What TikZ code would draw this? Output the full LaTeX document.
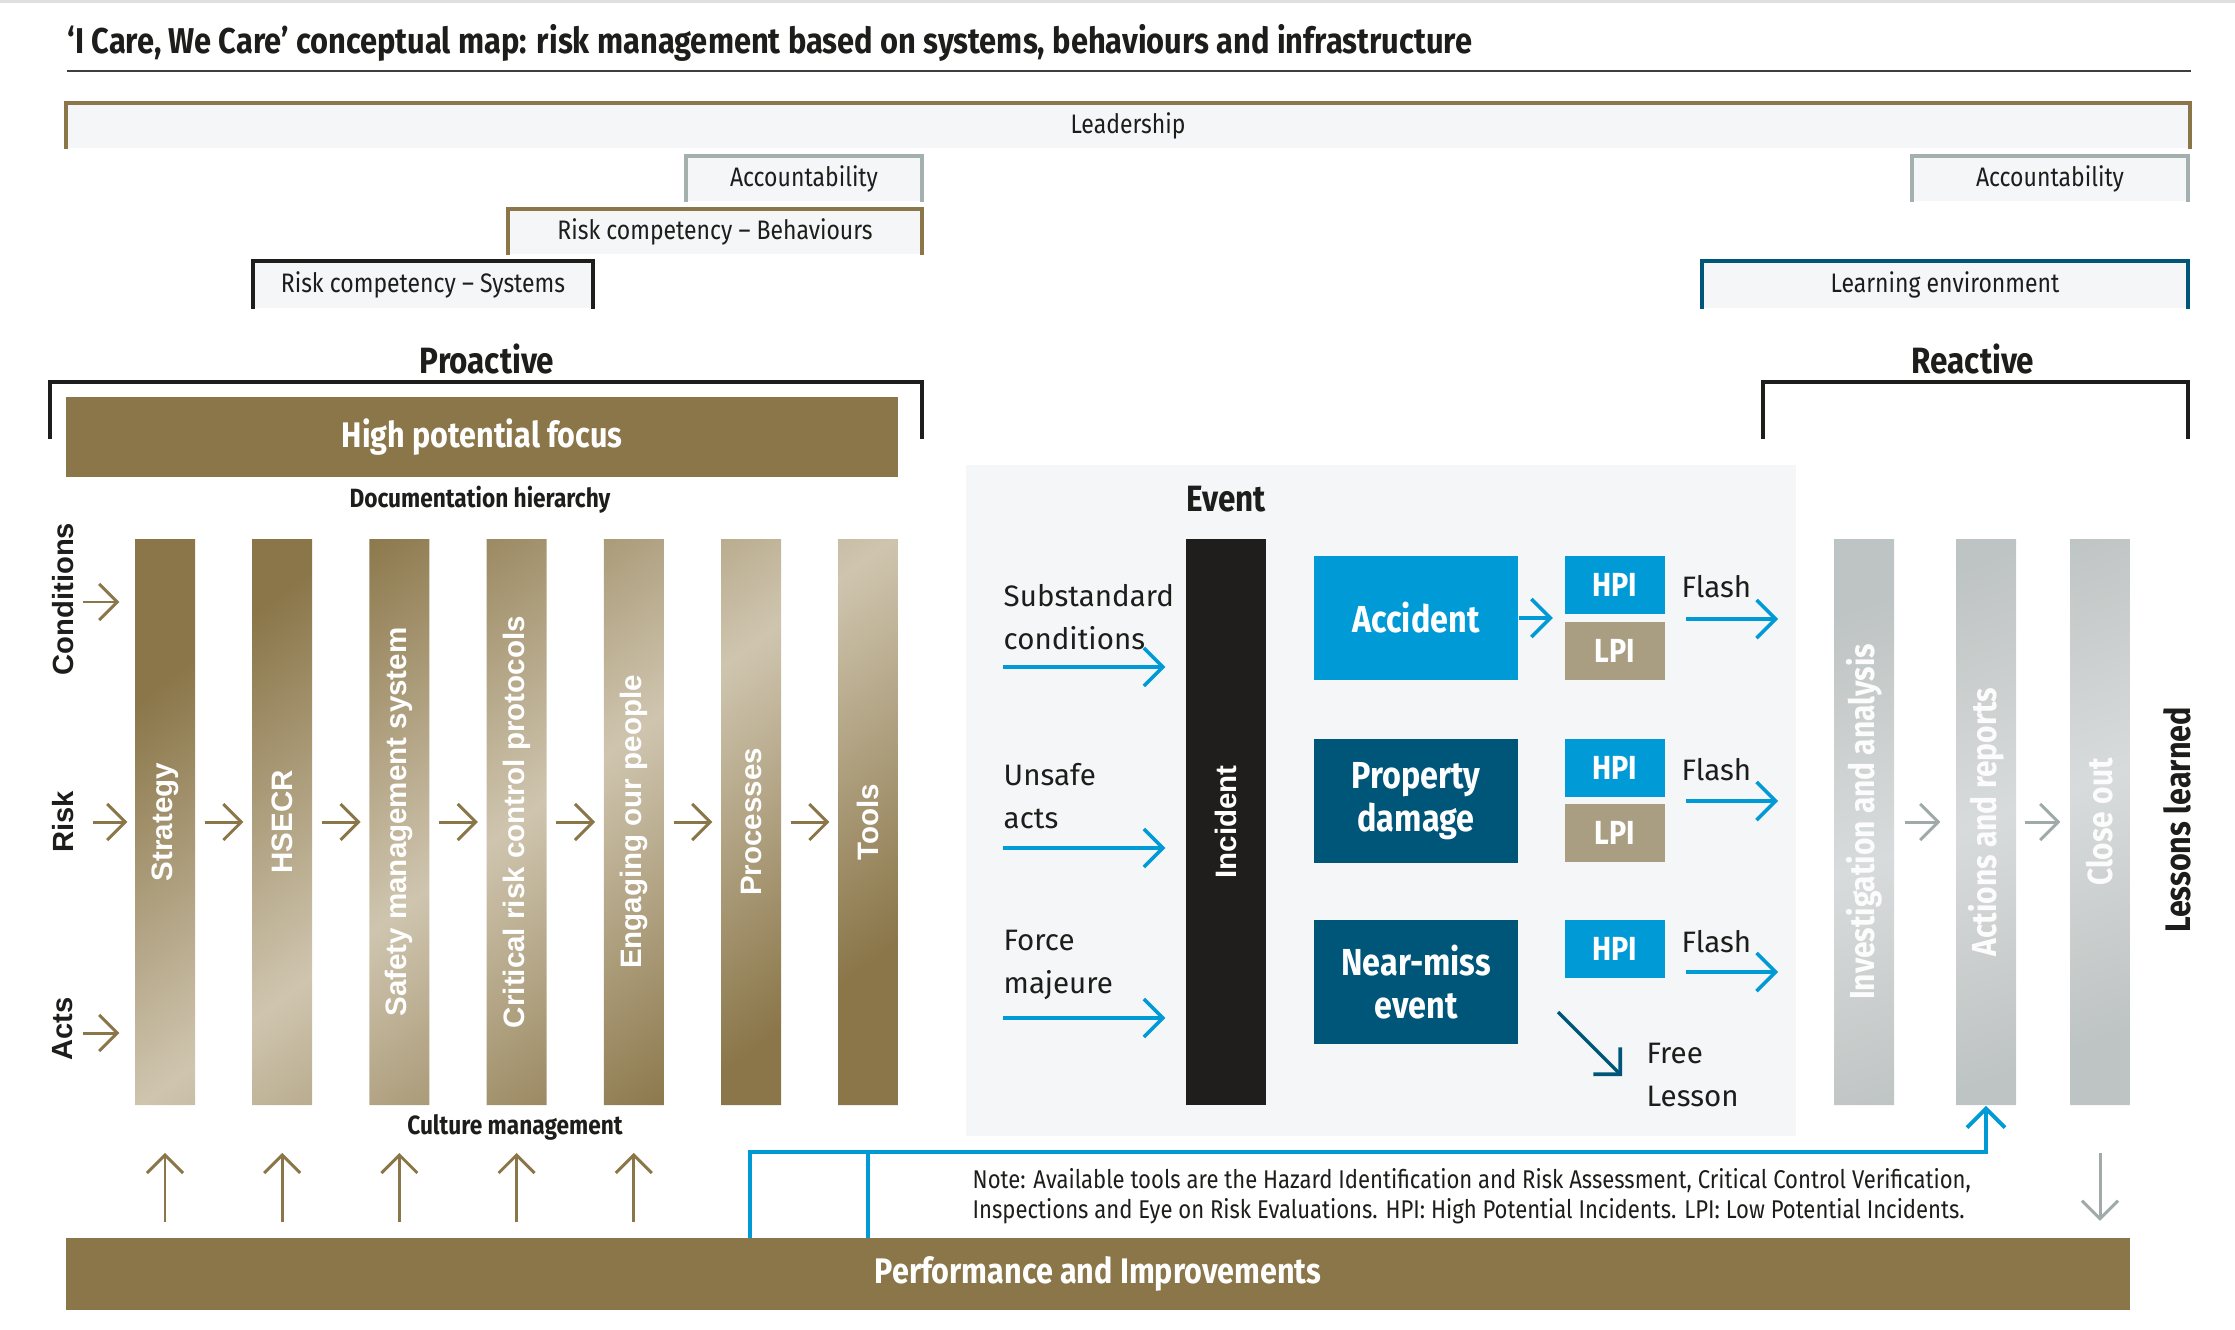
\documentclass[tikz,border=0pt]{standalone}
\usepackage{fontspec}
\setmainfont{Fira Sans}
\newfontfamily\condfont{Fira Sans}[FakeStretch=0.86]
\newfontfamily\arialfont{Liberation Sans}
\usetikzlibrary{arrows.meta}
\definecolor{gold}{HTML}{8A7649}
\definecolor{goldlight}{HTML}{CFC5AF}
\definecolor{ink}{HTML}{1D1D1B}
\definecolor{panel}{HTML}{F4F6F7}
\definecolor{accgray}{HTML}{A4B0AE}
\definecolor{navy}{HTML}{005679}
\definecolor{sky}{HTML}{009AD6}
\definecolor{taupe}{HTML}{A99D82}
\definecolor{incblack}{HTML}{1F1E1C}
\definecolor{ashdark}{HTML}{BEC4C3}
\definecolor{ashlight}{HTML}{D8DBDB}
\definecolor{asharrow}{HTML}{9FAAA9}
\newcommand{\fsz}[2]{\fontsize{#1}{#2}\selectfont}

\begin{document}
\begin{tikzpicture}[x=0.01cm, y=-0.01cm,
  every node/.style={inner sep=0pt, text=ink},
  tab/.style={fill=panel, minimum height=0.44cm, font=\condfont\fsz{7.6}{9}},
  head/.style={font=\condfont\bfseries\fsz{10.4}{12}},
  band/.style={fill=gold, text=white, font=\condfont\bfseries\fsz{10.1}{12}},
  sub/.style={font=\condfont\bfseries\fsz{7.5}{9}},
  bar/.style={rotate=90, minimum width=5.66cm, minimum height=0.6cm, text=white, font=\arialfont\bfseries\fsz{8.4}{10}},
  ashbar/.style={rotate=90, minimum width=5.66cm, minimum height=0.6cm, text=white!92!ashlight,
    font=\condfont\bfseries\fsz{9.9}{12}},
  side/.style={rotate=90, font=\arialfont\bfseries\fsz{8.3}{10}},
  evbox/.style={minimum width=2.04cm, minimum height=1.23cm, text=white, align=center, font=\condfont\bfseries\fsz{10.7}{12.2}},
  tag/.style={minimum width=0.99cm, minimum height=0.57cm, text=white, font=\condfont\bfseries\fsz{9.5}{10}},
  plain/.style={anchor=west, align=left, font=\fsz{8.4}{12.2}},
  goldarrow/.style={gold, line width=0.85pt, -{Straight Barb[length=1.8mm, width=3.6mm]}},
  bluearrow/.style={sky, line width=1pt, -{Straight Barb[length=1.9mm, width=3.8mm]}},
  asharrows/.style={asharrow, line width=0.85pt, -{Straight Barb[length=1.8mm, width=3.6mm]}}]
  \useasboundingbox (0,0) rectangle (2235,1330);
  \draw[gray!25, line width=1pt] (0,1) -- (2235,1);

  % title
  \node[anchor=base west, font=\condfont\bfseries\fsz{10.2}{12}] (title) at (67,54)
    {‘I Care, We Care’ conceptual map: risk management based on systems, behaviours and infrastructure};
  \draw[ink!85, line width=0.8pt] (67,71) -- (2191,71);

  % tabs
  \node[tab, minimum width=21.21cm] (lead) at (1128,126) {Leadership};
  \node[tab, minimum width=2.35cm] (accl) at (804,179) {Accountability};
  \node[tab, minimum width=4.13cm] (rcb) at (715,232) {Risk competency – Behaviours};
  \node[tab, minimum width=3.39cm, minimum height=0.46cm] (rcs) at (423,285) {Risk competency – Systems};
  \node[tab, minimum width=2.75cm] (accr) at (2050,179) {Accountability};
  \node[tab, minimum width=4.85cm, minimum height=0.46cm] (lenv) at (1945,285) {Learning environment};
  \draw[gold, line width=1.1pt] (lead.south west) |- (lead.north east) -- (lead.south east);
  \draw[accgray, line width=1.1pt] (accl.south west) |- (accl.north east) -- (accl.south east);
  \draw[gold, line width=1.1pt] (rcb.south west) |- (rcb.north east) -- (rcb.south east);
  \draw[ink, line width=1.1pt] (rcs.south west) |- (rcs.north east) -- (rcs.south east);
  \draw[accgray, line width=1.1pt] (accr.south west) |- (accr.north east) -- (accr.south east);
  \draw[navy, line width=1.1pt] (lenv.south west) |- (lenv.north east) -- (lenv.south east);

  % proactive side
  \node[head] (pro) at (487,359) {Proactive};
  \draw[ink, line width=1.2pt] (50,439) |- (922,382) -- (922,439);
  \node[band, minimum width=8.31cm, minimum height=0.79cm] (hpf) at (482,437) {High potential focus};
  \node[sub] (doc) at (480,500) {Documentation hierarchy};

  \begin{scope}
    \clip \foreach \i in {0,...,6} {(135+117.2*\i,539) rectangle ++(60,566)};
    \shade[top color=gold, bottom color=gold, middle color=goldlight, shading angle=37]
      (135,539) rectangle (898,1105);
  \end{scope}
  \foreach \lbl [count=\i from 0] in {Strategy, HSECR, Safety management system,
      Critical risk control protocols, Engaging our people, Processes, Tools}
    \node[bar] (b\i) at (165+117.2*\i,822) {\lbl};
  \foreach \i [evaluate=\i as \j using int(\i+1)] in {0,...,5}
    \draw[goldarrow, shorten <=0.09cm, shorten >=0.08cm] (b\i.south) -- (b\j.north);

  \node[side] (cond) at (63,599) {Conditions};
  \node[side] (risk) at (63,822) {Risk};
  \node[side] (acts) at (63,1029) {Acts};
  \coordinate (cin) at (83,602);
  \coordinate (rin) at (93,822);
  \coordinate (ain) at (83,1033);
  \draw[goldarrow, shorten >=0.15cm] (cin) -- (cin -| b0.north);
  \draw[goldarrow, shorten >=0.07cm] (rin) -- (rin -| b0.north);
  \draw[goldarrow, shorten >=0.15cm] (ain) -- (ain -| b0.north);

  \node[sub] (cult) at (515,1127) {Culture management};
  \node[band, minimum width=20.63cm, minimum height=0.71cm] (perf) at (1098,1274) {Performance and Improvements};
  \foreach \i in {0,...,4}
    \draw[goldarrow, shorten <=0.16cm, shorten >=0.47cm] (b\i.west |- perf.north) -- (b\i.west);

  % event
  \fill[panel] (966,465) rectangle (1796,1136);
  \node[head] (event) at (1226,499) {Event};
  \node[bar, fill=incblack, minimum height=0.8cm, font=\arialfont\bfseries\fsz{8.4}{10}] (inc) at (1226,822) {Incident};

  \node[plain] (subc) at (1003,617) {Substandard\\conditions};
  \node[plain] (unsafe) at (1003,796) {Unsafe\\acts};
  \node[plain] (force) at (1003,965) {Force\\majeure};
  \coordinate (subin) at (1003,667);
  \coordinate (unin) at (1003,848);
  \coordinate (foin) at (1003,1018);
  \draw[bluearrow, shorten >=0.2cm] (subin) -- (subin -| inc.north);
  \draw[bluearrow, shorten >=0.2cm] (unin) -- (unin -| inc.north);
  \draw[bluearrow, shorten >=0.2cm] (foin) -- (foin -| inc.north);

  \node[evbox, fill=sky] (acc) at (1416,618) {Accident};
  \node[evbox, fill=navy] (pd) at (1416,801) {Property\\damage};
  \node[evbox, fill=navy] (nm) at (1416,982) {Near-miss\\event};
  \node[tag, fill=sky] (hpi1) at (1615,585) {HPI};
  \node[tag, fill=taupe] (lpi1) at (1615,651) {LPI};
  \node[tag, fill=sky] (hpi2) at (1615,768) {HPI};
  \node[tag, fill=taupe] (lpi2) at (1615,833) {LPI};
  \node[tag, fill=sky] (hpi3) at (1615,949) {HPI};
  \draw[bluearrow, shorten >=0.12cm] (acc.east) -- (acc.east -| hpi1.west);
  \foreach \n/\y/\a in {1/587/619, 2/770/801, 3/942/972} {
    \node[plain] (flash\n) at (1681,\y) {Flash};
    \coordinate (fl\n) at (1686,\a);
    \draw[bluearrow] (fl\n) -- ++(92,0);
  }
  \coordinate (fr) at (1558,1012);
  \draw[navy, line width=1pt, -{Straight Barb[length=1.9mm, width=3.8mm]}] (fr) -- ++(64,64);
  \node[plain] (free) at (1646,1075) {Free\\Lesson};

  % reactive side
  \node[head] (rea) at (1973,359) {Reactive};
  \draw[ink, line width=1.2pt] (1763,439) |- (2188,382) -- (2188,439);
  \begin{scope}
    \clip (1834,539) rectangle ++(60,566) (1956,539) rectangle ++(60,566) (2070,539) rectangle ++(60,566);
    \shade[top color=ashdark, bottom color=ashdark, middle color=ashlight, shading angle=20]
      (1834,539) rectangle (2130,1105);
  \end{scope}
  \node[ashbar] (inv) at (1864,822) {Investigation and analysis};
  \node[ashbar] (act) at (1986,822) {Actions and reports};
  \node[ashbar] (clo) at (2100,822) {Close out};
  \draw[asharrows, shorten <=0.1cm, shorten >=0.15cm] (inv.south) -- (act.north);
  \draw[asharrows, shorten <=0.08cm, shorten >=0.09cm] (act.south) -- (clo.north);
  \draw[asharrows, shorten <=0.47cm, shorten >=0.17cm] (clo.west) -- (clo.west |- perf.north);
  \node[side, font=\condfont\bfseries\fsz{10.1}{12}] (less) at (2177,820) {Lessons learned};

  % feedback line
  \coordinate (fbl) at (750,1152);
  \coordinate (fbr) at (868,1152);
  \draw[bluearrow, line width=1.1pt] (fbl |- perf.north) -- (fbl) -| (act.west);
  \draw[sky, line width=1.1pt] (fbr |- perf.north) -- (fbr);

  \node[anchor=north west, align=left, font=\condfont\fsz{7.3}{8.5}] (note) at (972,1168)
    {Note: Available tools are the Hazard Identification and Risk Assessment, Critical Control Verification,\\
     Inspections and Eye on Risk Evaluations. HPI: High Potential Incidents. LPI: Low Potential Incidents.};
\end{tikzpicture}
\end{document}
